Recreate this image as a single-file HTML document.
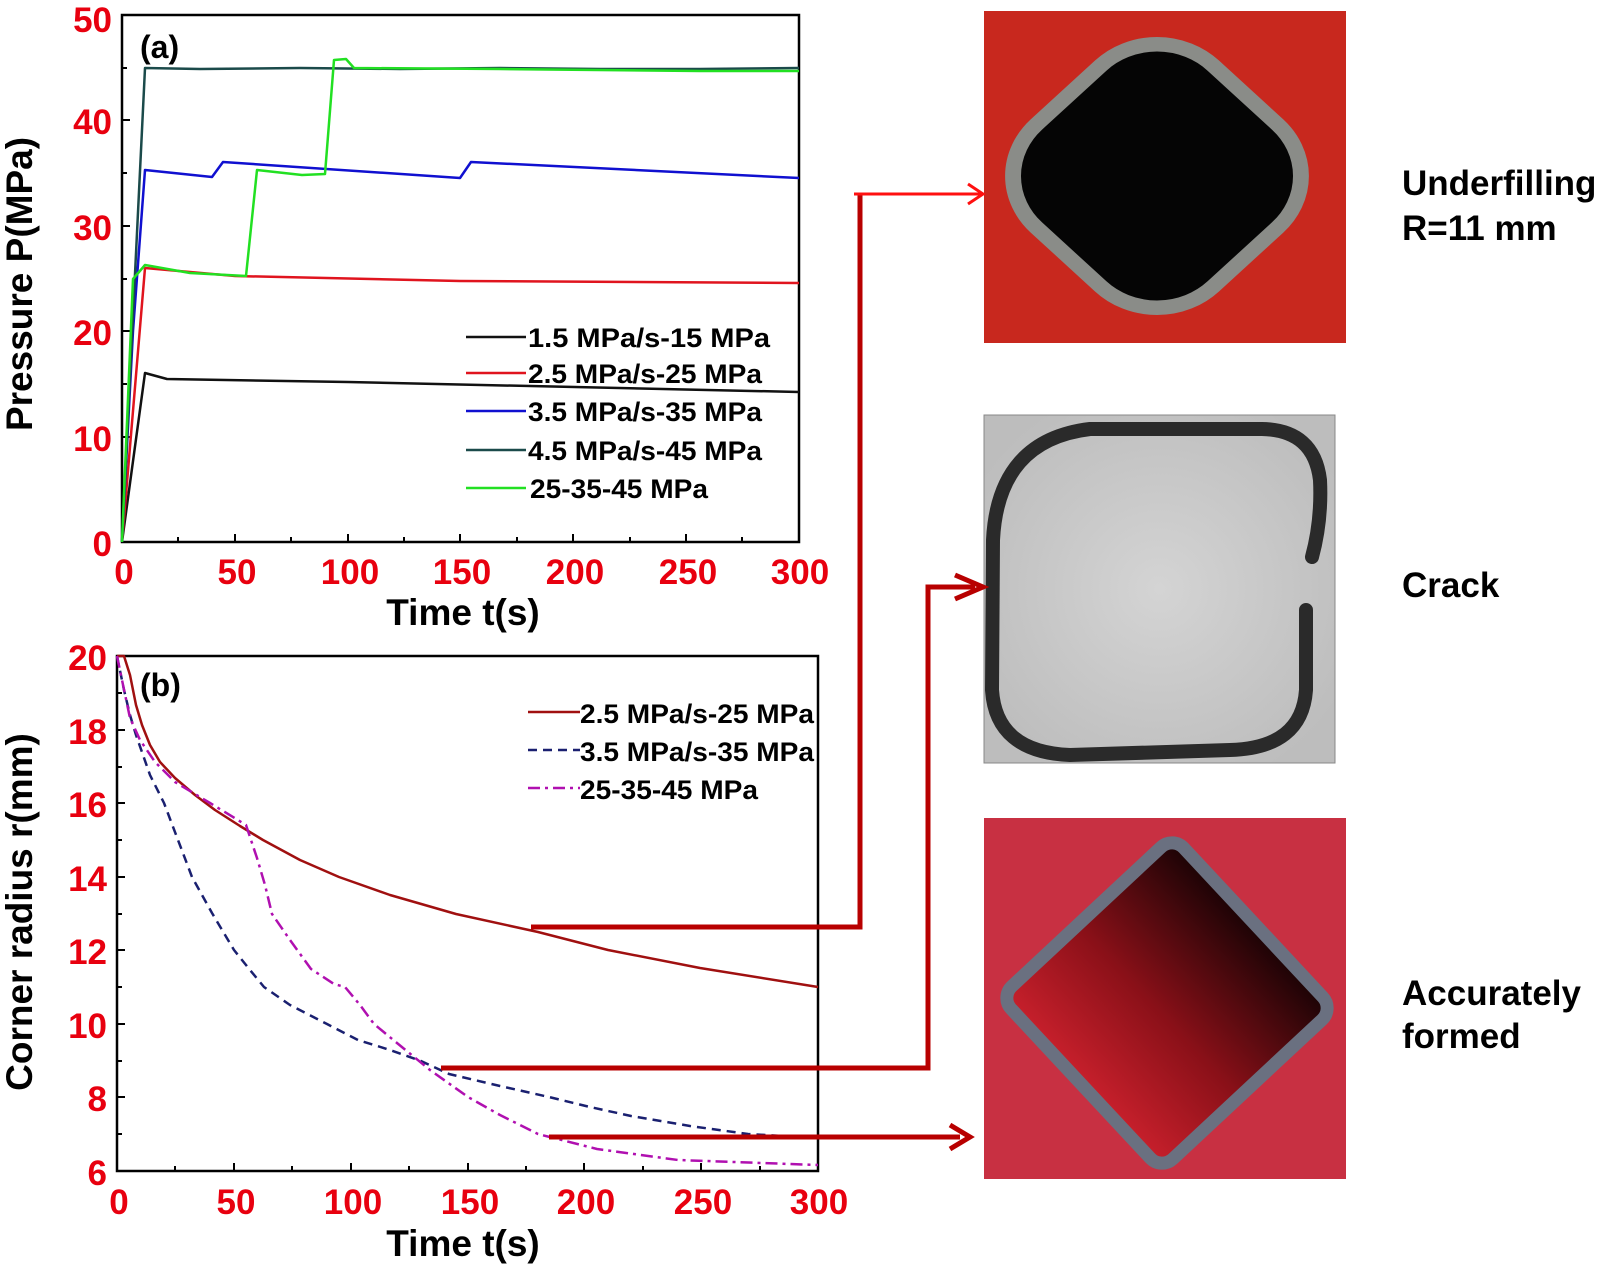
<!DOCTYPE html>
<html><head><meta charset="utf-8"><style>
html,body{margin:0;padding:0;background:#fff;}
svg{display:block;}
text{font-family:"Liberation Sans",Arial,sans-serif;font-weight:bold;}
.tk{fill:#e8000f;font-size:35px;}
.at{fill:#000;font-size:37px;}
.lg{fill:#000;font-size:27px;}
.lab{fill:#000;font-size:35px;}
</style></head><body>
<svg width="1600" height="1271" viewBox="0 0 1600 1271" xmlns="http://www.w3.org/2000/svg">
<defs>
<linearGradient id="g3" x1="0" y1="0" x2="0" y2="1"><stop offset="0" stop-color="#1a0305"/><stop offset="0.55" stop-color="#8a1018"/><stop offset="1" stop-color="#c8202c"/></linearGradient>
<radialGradient id="g2" cx="0.5" cy="0.5" r="0.6"><stop offset="0" stop-color="#d4d4d4"/><stop offset="1" stop-color="#bdbdbd"/></radialGradient>
</defs>
<!-- Plot (a) -->
<rect x="122" y="15" width="677" height="527" fill="none" stroke="#000" stroke-width="2.5"/>
<g stroke="#000" stroke-width="2">
<line x1="122" y1="542" x2="122" y2="534"/><line x1="178" y1="542" x2="178" y2="537"/><line x1="235" y1="542" x2="235" y2="534"/><line x1="291" y1="542" x2="291" y2="537"/><line x1="348" y1="542" x2="348" y2="534"/><line x1="404" y1="542" x2="404" y2="537"/><line x1="460" y1="542" x2="460" y2="534"/><line x1="517" y1="542" x2="517" y2="537"/><line x1="573" y1="542" x2="573" y2="534"/><line x1="630" y1="542" x2="630" y2="537"/><line x1="686" y1="542" x2="686" y2="534"/><line x1="742" y1="542" x2="742" y2="537"/>
<line x1="122" y1="437" x2="130" y2="437"/><line x1="122" y1="331" x2="130" y2="331"/><line x1="122" y1="226" x2="130" y2="226"/><line x1="122" y1="120" x2="130" y2="120"/>
<line x1="122" y1="489" x2="127" y2="489"/><line x1="122" y1="384" x2="127" y2="384"/><line x1="122" y1="279" x2="127" y2="279"/><line x1="122" y1="173" x2="127" y2="173"/><line x1="122" y1="68" x2="127" y2="68"/>
</g>
<g class="tk" text-anchor="end">
<text x="112" y="556">0</text><text x="112" y="451">10</text><text x="112" y="345">20</text><text x="112" y="240">30</text><text x="112" y="134">40</text><text x="112" y="32">50</text>
</g>
<g class="tk" text-anchor="middle">
<text x="124" y="584">0</text><text x="237" y="584">50</text><text x="350" y="584">100</text><text x="462" y="584">150</text><text x="575" y="584">200</text><text x="688" y="584">250</text><text x="800" y="584">300</text>
</g>
<text class="at" x="463" y="625" text-anchor="middle">Time t(s)</text>
<text class="at" transform="translate(32,284) rotate(-90)" text-anchor="middle">Pressure P(MPa)</text>
<text x="140" y="58" style="font-size:32px">(a)</text>
<g fill="none" stroke-width="2.5" stroke-linejoin="round">
<polyline stroke="#111" points="122,542 145,373 167,379 348,382 799,392"/>
<polyline stroke="#e0141e" points="122,542 145,268 235,276 460,281 799,283"/>
<polyline stroke="#1010d0" points="122,542 133,331 145,170 212,177 223,162 460,178 471,162 799,178"/>
<polyline stroke="#1b4a4a" points="122,542 145,68 200,69 300,68 400,69 500,68 600,69 700,69 799,68"/>
<polyline stroke="#22e022" points="122,542 133,279 145,265 190,273 246,276 257,170 302,175 325,174 334,60 346,59 354,68 500,69 700,71 799,71"/>
</g>
<g stroke-width="2.5">
<line x1="466" y1="337" x2="526" y2="337" stroke="#111"/>
<line x1="466" y1="373" x2="526" y2="373" stroke="#e0141e"/>
<line x1="466" y1="411" x2="526" y2="411" stroke="#1010d0"/>
<line x1="466" y1="450" x2="526" y2="450" stroke="#1b4a4a"/>
<line x1="466" y1="488" x2="526" y2="488" stroke="#22e022"/>
</g>
<g class="lg">
<text x="528" y="347" textLength="242" lengthAdjust="spacingAndGlyphs">1.5 MPa/s-15 MPa</text>
<text x="528" y="383" textLength="234" lengthAdjust="spacingAndGlyphs">2.5 MPa/s-25 MPa</text>
<text x="528" y="421" textLength="234" lengthAdjust="spacingAndGlyphs">3.5 MPa/s-35 MPa</text>
<text x="528" y="460" textLength="234" lengthAdjust="spacingAndGlyphs">4.5 MPa/s-45 MPa</text>
<text x="530" y="498" textLength="178" lengthAdjust="spacingAndGlyphs">25-35-45 MPa</text>
</g>
<!-- Plot (b) -->
<rect x="117" y="656" width="701" height="515" fill="none" stroke="#000" stroke-width="2.5"/>
<g stroke="#000" stroke-width="2">
<line x1="117" y1="1171" x2="117" y2="1163"/><line x1="175" y1="1171" x2="175" y2="1166"/><line x1="234" y1="1171" x2="234" y2="1163"/><line x1="292" y1="1171" x2="292" y2="1166"/><line x1="351" y1="1171" x2="351" y2="1163"/><line x1="409" y1="1171" x2="409" y2="1166"/><line x1="468" y1="1171" x2="468" y2="1163"/><line x1="526" y1="1171" x2="526" y2="1166"/><line x1="584" y1="1171" x2="584" y2="1163"/><line x1="643" y1="1171" x2="643" y2="1166"/><line x1="701" y1="1171" x2="701" y2="1163"/><line x1="760" y1="1171" x2="760" y2="1166"/>
<line x1="117" y1="1097" x2="125" y2="1097"/><line x1="117" y1="1024" x2="125" y2="1024"/><line x1="117" y1="950" x2="125" y2="950"/><line x1="117" y1="877" x2="125" y2="877"/><line x1="117" y1="803" x2="125" y2="803"/><line x1="117" y1="730" x2="125" y2="730"/>
<line x1="117" y1="1134" x2="122" y2="1134"/><line x1="117" y1="1061" x2="122" y2="1061"/><line x1="117" y1="987" x2="122" y2="987"/><line x1="117" y1="914" x2="122" y2="914"/><line x1="117" y1="840" x2="122" y2="840"/><line x1="117" y1="767" x2="122" y2="767"/><line x1="117" y1="693" x2="122" y2="693"/>
</g>
<g class="tk" text-anchor="end">
<text x="107" y="1185">6</text><text x="107" y="1111">8</text><text x="107" y="1038">10</text><text x="107" y="964">12</text><text x="107" y="891">14</text><text x="107" y="817">16</text><text x="107" y="744">18</text><text x="107" y="670">20</text>
</g>
<g class="tk" text-anchor="middle">
<text x="119" y="1214">0</text><text x="236" y="1214">50</text><text x="353" y="1214">100</text><text x="470" y="1214">150</text><text x="586" y="1214">200</text><text x="703" y="1214">250</text><text x="819" y="1214">300</text>
</g>
<text class="at" x="463" y="1256" text-anchor="middle">Time t(s)</text>
<text class="at" transform="translate(32,912) rotate(-90)" text-anchor="middle">Corner radius r(mm)</text>
<text x="140" y="696" style="font-size:32px">(b)</text>
<g fill="none" stroke-width="2.5" stroke-linejoin="round">
<polyline stroke="#a01010" points="117,656 124,656 130,675 136,705 142,725 150,745 160,762 175,778 195,795 215,810 240,826 263,840 300,860 339,877 390,895 456,914 538,932 608,950 700,968 818,987"/>
<polyline stroke="#1a2070" stroke-dasharray="9,6" points="117,656 124,690 130,715 136,735 143,755 150,775 164,803 178,840 192,877 212,913 234,950 250,970 264,987 290,1005 327,1024 358,1040 390,1050 421,1061 449,1074 500,1086 549,1097 590,1107 631,1116 690,1126 748,1134 801,1137"/>
<polyline stroke="#b010b0" stroke-dasharray="12,5,3,5" points="117,656 122,680 130,718 140,740 155,762 175,782 210,803 246,825 257,858 265,885 272,914 290,940 311,969 334,984 345,987 360,1005 374,1024 397,1043 430,1070 468,1097 500,1115 538,1134 597,1149 678,1160 818,1165"/>
</g>
<g stroke-width="2.5">
<line x1="528" y1="712" x2="580" y2="712" stroke="#a01010"/>
<line x1="528" y1="750" x2="580" y2="750" stroke="#1a2070" stroke-dasharray="9,6"/>
<line x1="528" y1="788" x2="580" y2="788" stroke="#b010b0" stroke-dasharray="12,5,3,5"/>
</g>
<g class="lg">
<text x="580" y="723" textLength="234" lengthAdjust="spacingAndGlyphs">2.5 MPa/s-25 MPa</text>
<text x="580" y="761" textLength="234" lengthAdjust="spacingAndGlyphs">3.5 MPa/s-35 MPa</text>
<text x="580" y="799" textLength="178" lengthAdjust="spacingAndGlyphs">25-35-45 MPa</text>
</g>
<!-- Images -->
<rect x="984" y="11" width="362" height="332" fill="#c8281e"/>
<rect x="-118" y="-118" width="236" height="236" rx="75" transform="translate(1157,176) scale(1.06,0.97) rotate(45)" fill="#050505" stroke="#8a8c88" stroke-width="15"/>
<rect x="984" y="415" width="351" height="348" fill="url(#g2)" stroke="#888" stroke-width="1"/>
<path d="M1312,557 Q1322,520 1320,480 Q1314,430 1262,429 L1090,429 Q998,440 993,540 L992,690 Q996,752 1070,755 L1230,750 Q1302,748 1306,690 L1306,610" fill="none" stroke="#2a2a2a" stroke-width="14" stroke-linecap="round"/>
<rect x="984" y="818" width="362" height="361" fill="#c83042"/>
<rect x="-118" y="-118" width="236" height="236" rx="16" transform="translate(1167,1003) rotate(47)" fill="url(#g3)" stroke="#6a7080" stroke-width="13"/>
<!-- connectors -->
<g stroke="#b80000" stroke-width="5" fill="none">
<polyline points="531,927 860,927 860,194"/>
<polyline points="441,1068 928,1068 928,587 975,587"/>
<polyline points="549,1137 960,1137"/>
<polyline points="955,575 983,587 955,599"/>
<polyline points="950,1125 970,1137 950,1149"/>
</g>
<g stroke="#ff1010" stroke-width="3" fill="none">
<line x1="854" y1="194" x2="983" y2="194"/>
<polyline points="968,184 983,194 968,204"/>
</g>
<!-- labels -->
<g class="lab">
<text x="1402" y="195">Underfilling</text>
<text x="1402" y="240">R=11 mm</text>
<text x="1402" y="597">Crack</text>
<text x="1402" y="1005">Accurately</text>
<text x="1402" y="1048">formed</text>
</g>
</svg>
</body></html>
